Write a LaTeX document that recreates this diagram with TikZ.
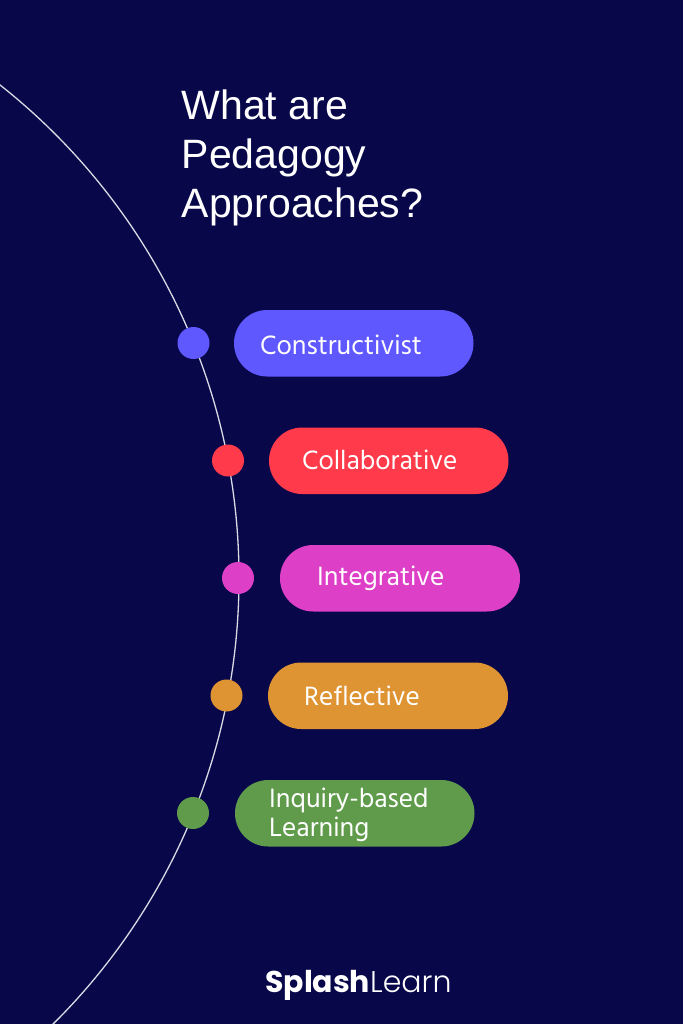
\documentclass[tikz,border=0pt]{standalone}
\usepackage{fontspec}
\setmainfont{Liberation Sans}
\newfontfamily\labelfont{Hind Madurai}
\newfontfamily\titlefont{Liberation Sans}
\newfontfamily\logofont{Poppins}
\newfontfamily\logolight[UprightFont=* Light]{Poppins}
\definecolor{bgnavy}{HTML}{07074A}
\definecolor{cblue}{HTML}{6058FF}
\definecolor{cred}{HTML}{FF3A4A}
\definecolor{cmag}{HTML}{DD3FC6}
\definecolor{corange}{HTML}{DF9433}
\definecolor{cgreen}{HTML}{5F9B4A}
\tikzset{
  dot/.style={circle,minimum size=32pt,inner sep=0pt,fill=#1},
  pill/.style={rounded corners=33.2pt,fill=#1},
  lbl/.style={anchor=west,text=white,inner sep=0pt,font=\labelfont\fontsize{27.2}{29}\selectfont,align=left},
  ttl/.style={anchor=base west,text=white,inner sep=0pt,font=\titlefont\fontsize{41}{48}\selectfont},
}
\begin{document}
\begin{tikzpicture}[x=1pt,y=-1pt]
\useasboundingbox (0,0) rectangle (683,1024);
\fill[bgnavy] (0,0) rectangle (683,1024);
\begin{scope}
\clip (0,0) rectangle (683,1024);
\draw[white!85!bgnavy,line width=1.3pt] (-389,578) circle[radius=628];
\end{scope}
\node[ttl] (t1) at (181.5,120) {What are};
\node[ttl] (t2) at (181.5,169) {Pedagogy};
\node[ttl] (t3) at (181.5,218) {Approaches?};
\node[dot=cblue] (d1) at (193.5,343) {};
\node[dot=cred] (d2) at (228,460.5) {};
\node[dot=cmag] (d3) at (238,578) {};
\node[dot=corange] (d4) at (226.5,695.5) {};
\node[dot=cgreen] (d5) at (193,813) {};
\fill[pill=cblue] (234,310) rectangle (473.5,376.5);
\fill[pill=cred] (269,427.5) rectangle (508.5,494);
\fill[pill=cmag] (280,545) rectangle (520,611.5);
\fill[pill=corange] (268,662.5) rectangle (508,729);
\fill[pill=cgreen] (235,780) rectangle (474.5,846.5);
\node[lbl] (l1) at (260,345) {Constructivist};
\node[lbl] (l2) at (302,460) {Collaborative};
\node[lbl] (l3) at (317,578) {Integrative};
\node[lbl] (l4) at (304,696) {Reflective};
\node[lbl] (l5) at (269,815) {Inquiry-based\\Learning};
\node[anchor=base west,text=white,inner sep=0pt] (logo) at (265,992) {\fontsize{30}{30}\selectfont{\logofont\bfseries Splash}{\logolight Learn}};
\end{tikzpicture}
\end{document}
